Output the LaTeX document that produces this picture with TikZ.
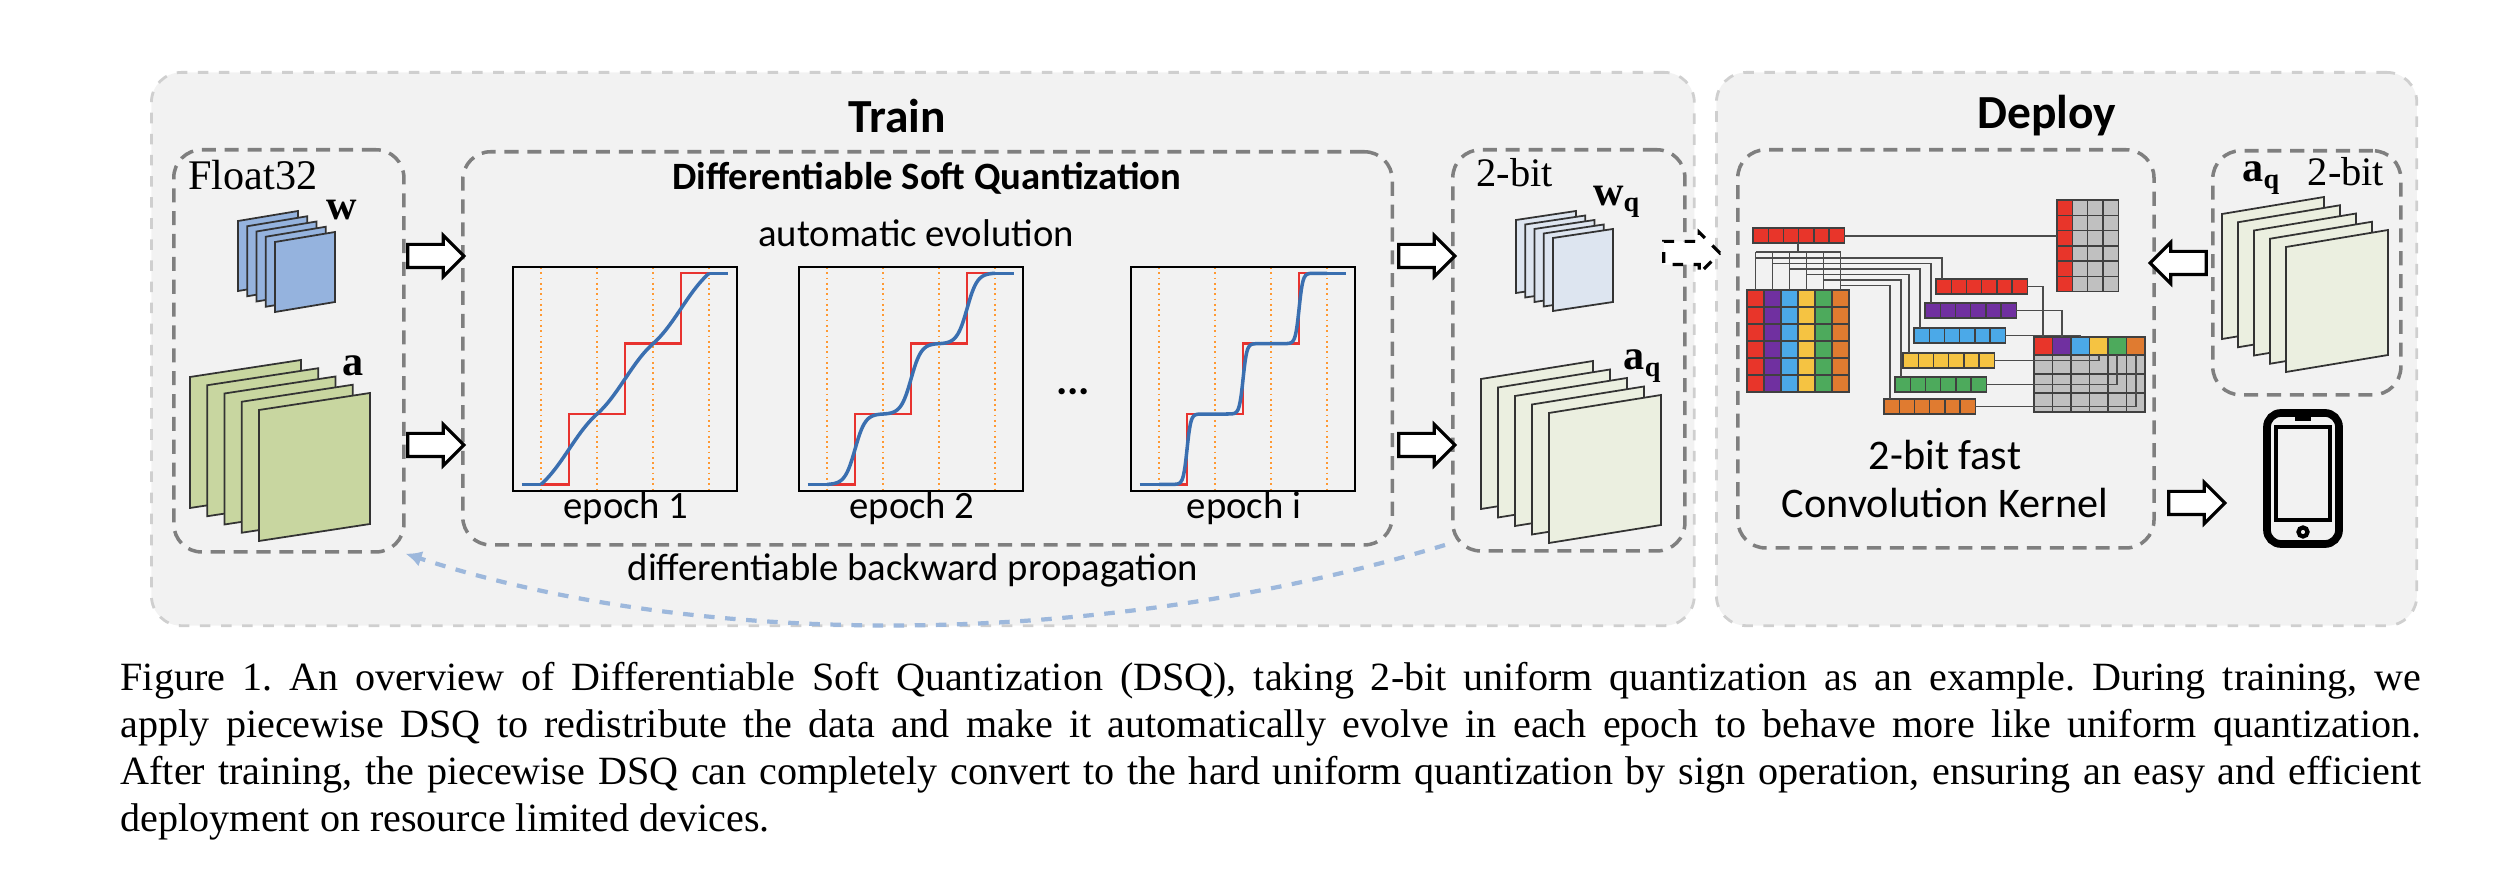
\documentclass[tikz,border=0pt]{standalone}
\usepackage{fontspec}
\setmainfont{Liberation Serif}
\newfontfamily\carlito{Carlito}
\usetikzlibrary{shapes.arrows,calc,arrows.meta}
\definecolor{panel}{HTML}{F2F2F2}
\definecolor{panelline}{HTML}{CFCFCF}
\definecolor{boxline}{HTML}{7F7F7F}
\definecolor{wsheet}{HTML}{95B3DE}
\definecolor{asheet}{HTML}{C8D6A0}
\definecolor{wqsheet}{HTML}{DDE5F0}
\definecolor{aqsheet}{HTML}{EBEFE0}
\definecolor{kred}{HTML}{E8352A}
\definecolor{kpur}{HTML}{7030A0}
\definecolor{kblu}{HTML}{4BA9E8}
\definecolor{kyel}{HTML}{F5C342}
\definecolor{kgrn}{HTML}{4DAA5C}
\definecolor{korg}{HTML}{E07B30}
\definecolor{kgry}{HTML}{C0C0C0}
\definecolor{stepred}{HTML}{E8332F}
\definecolor{softblue}{HTML}{3A6FB0}
\definecolor{back}{HTML}{9DB8DC}

% stack of five sheets: x, y, width, height, slant, dx, dy, colour
\newcommand\sheetstack[8]{%
  \foreach \i in {0,...,4}
    \draw[sheet, fill=#8] (#1+\i*#6, #2+\i*#7) -- ++(#3,-#5) -- ++(0,#4) -- ++(-#3,#5) -- cycle;}

% one epoch plot: x, y, sharpness
\newcommand\epochplot[3]{%
  \begin{scope}[shift={(#1,#2)}, x=2.24cm, y=-2.24cm]
    \foreach \v in {0.125,0.375,0.625,0.875}
      \draw[guide] (\v,0) -- (\v,1);
    \draw[stepred, line width=0.7pt] (0.04,0.97) -- (0.25,0.97) -- (0.25,0.656) -- (0.5,0.656)
      -- (0.5,0.342) -- (0.75,0.342) -- (0.75,0.028) -- (0.96,0.028);
    \draw[softblue, line width=1pt] (0.04,0.97) -- (0.125,0.97);
    \foreach \s in {0,1,2}
      \draw[softblue, line width=1pt, domain=0.125+0.25*\s:0.375+0.25*\s, samples=40, smooth]
        plot (\x, {0.97-0.314*(\s+0.5+0.5*tanh(#3*(\x-0.25-0.25*\s))/tanh(#3*0.125))});
    \draw[softblue, line width=1pt] (0.875,0.028) -- (0.96,0.028);
    \draw[line width=0.6pt] (0,0) rectangle (1,1);
  \end{scope}}

\begin{document}
\frenchspacing
\begin{tikzpicture}[x=0.01cm, y=-0.01cm,
    outer/.style={draw=panelline, fill=panel, dashed, line width=0.8pt, rounded corners=0.3cm,
      anchor=north west, inner sep=0pt},
    inner/.style={draw=boxline, dashed, dash pattern=on 4pt off 2.5pt, line width=1pt,
      rounded corners=0.28cm, anchor=north west, inner sep=0pt},
    sheet/.style={draw=black!80, line width=0.5pt},
    guide/.style={draw=orange!80, densely dotted, line width=0.5pt},
    blk/.style={single arrow, draw, fill=white, line width=0.9pt, inner sep=0.1cm,
      minimum width=0.38cm, single arrow head extend=0.09cm, minimum height=0.56cm},
    cell/.style={draw=black!75, line width=0.4pt},
    wire/.style={draw=black!70, line width=0.5pt},
    title/.style={font=\carlito\bfseries\fontsize{13.5}{14}\selectfont},
    lbl/.style={font=\carlito\fontsize{11}{12}\selectfont}
  ]
  \useasboundingbox (0,0) rectangle (2520,874);

  % panels
  \node[outer, minimum width=15.42cm, minimum height=5.53cm] (train) at (150,71) {};
  \node[outer, minimum width=7.0cm, minimum height=5.53cm] (deploy) at (1715,71) {};
  \node[title] (traint) at (897,116) {Train};
  \node[title] (deployt) at (2047,116) {Deploy};

  % inner boxes
  \node[inner, minimum width=2.30cm, minimum height=4.02cm] (float) at (172,148) {};
  \node[inner, minimum width=9.29cm, minimum height=3.93cm] (dsq) at (461,150) {};
  \node[inner, minimum width=2.32cm, minimum height=4.01cm] (qbit) at (1451,148) {};
  \node[inner, minimum width=4.16cm, minimum height=3.98cm] (kernel) at (1736,148) {};
  \node[inner, minimum width=1.88cm, minimum height=2.44cm] (aqbox) at (2211,149) {};

  % float32 tensors
  \node[anchor=west, font=\fontsize{12}{12}\selectfont] (floatt) at (176,175) {Float32};
  \sheetstack{238}{221}{60}{70}{10}{9.25}{5.25}{wsheet}
  \sheetstack{190}{377}{111}{131}{17}{17.25}{8.25}{asheet}
  \node[font=\bfseries\fontsize{12}{12}\selectfont] (wl) at (342,210) {w};
  \node[font=\bfseries\fontsize{12}{12}\selectfont] (al) at (353,366) {a};

  % soft quantization
  \node[font=\carlito\bfseries\fontsize{11}{12}\selectfont] (dsqt) at (927,178) {Differentiable Soft Quantization};
  \node[lbl] (evo) at (916,233) {automatic evolution};
  \epochplot{513}{267}{6}
  \epochplot{799}{267}{22}
  \epochplot{1131}{267}{60}
  \node[lbl] (ep1) at (626,508) {epoch 1};
  \node[lbl] (ep2) at (912,508) {epoch 2};
  \node[lbl] (epi) at (1244,508) {epoch i};
  \node[font=\carlito\bfseries\fontsize{12}{12}\selectfont] (dots) at (1073,392) {...};

  % 2-bit tensors
  \node[anchor=west, font=\fontsize{11.5}{12}\selectfont] (qbitt) at (1464,173) {2-bit};
  \sheetstack{1516}{220}{60}{73}{9}{9.25}{4.5}{wqsheet}
  \sheetstack{1481}{379}{112}{130}{18}{17}{8.5}{aqsheet}
  \node[font=\bfseries\fontsize{12}{12}\selectfont] (wql) at (1617,202) {w$_{\mathbf{q}}$};
  \node[font=\bfseries\fontsize{12}{12}\selectfont] (aql) at (1643,366) {a$_{\mathbf{q}}$};

  % block arrows
  \node[blk] (f1) at (430,256) {};
  \node[blk] (f2) at (430,445) {};
  \node[blk] (q1) at (1421,256) {};
  \node[blk] (q2) at (1421,445) {};
  \node[blk, dashed] (q3) at (1686,253) {};
  \node[blk, shape border rotate=180] (d1) at (2184,263) {};
  \node[blk] (d2) at (2191,503) {};

  % backward propagation
  \coordinate (bstart) at (1445,545);
  \draw[back, dashed, line width=1.2pt, -{Latex[length=0.16cm,width=0.16cm]}]
    (bstart) .. controls (1100,650) and (700,650) .. (float.south east);
  \node[lbl] (backt) at (913,570) {differentiable backward propagation};

  % deploy inputs
  \node[anchor=west, font=\bfseries\fontsize{12}{12}\selectfont] (aqdl) at (2230,178) {a$_{\mathbf{q}}$};
  \node[font=\fontsize{11.5}{12}\selectfont] (aqdt) at (2346,172) {2-bit};
  \sheetstack{2222}{214}{102}{125}{17}{16}{8.25}{aqsheet}

  % kernel
  \foreach \i in {0,...,5}
    \draw[cell, fill=kred] (1753+\i*15.2,228) rectangle ++(15.2,15);
  \foreach \c [count=\i from 0] in {kred,kpur,kblu,kyel,kgrn,korg}
    \foreach \j in {0,...,5}
      \draw[cell, fill=\c] (1747+\i*17,290+\j*17) rectangle ++(17,17);
  \foreach \i in {0,...,3}
    \foreach \j in {0,...,5}
      \draw[cell, fill=kgry] (2057+\i*15.3,200+\j*15.3) rectangle ++(15.3,15.3);
  \foreach \j in {0,...,5}
    \draw[cell, fill=kred] (2057,200+\j*15.3) rectangle ++(15.3,15.3);
  \foreach \c [count=\i from 0] in {kred,kpur,kblu,kyel,kgrn,korg}{
    \draw[cell, fill=\c] (2034+\i*18.5,337) rectangle ++(18.5,18);
    \foreach \j in {0,1,2}
      \draw[cell, fill=kgry] (2034+\i*18.5,355+\j*19) rectangle ++(18.5,19);}
  \foreach \rx/\ry/\c [count=\k from 0] in {1936/279/kred,1925/303/kpur,1914/328/kblu,
      1903/353/kyel,1895/377/kgrn,1884/399/korg}{
    \foreach \i in {0,...,5}
      \draw[cell, fill=\c] (\rx+\i*15.2,\ry) rectangle ++(15.2,15);
    \draw[wire] (1755.5+\k*17,258+\k*5.5) -| (\rx+6,\ry);}
  \draw[wire] (1844,236) -- (2057,236);
  \draw[wire] (1798,243) -- (1798,252);
  \draw[wire] (1755.5,252) -- (1840.5,252);
  \foreach \i in {0,...,5}
    \draw[wire] (1755.5+\i*17,252) -- (1755.5+\i*17,290);
  \draw[wire] (2027,286.5) -| (2043,337);
  \draw[wire] (2016,310.5) -| (2062,337);
  \draw[wire] (2005,335.5) -| (2080,337);
  \draw[wire] (1994,360.5) -| (2099,355);
  \draw[wire] (1986,384.5) -| (2117,355);
  \draw[wire] (1975,406.5) -| (2136,355);
  \node[lbl, font=\carlito\fontsize{12}{12}\selectfont] (kt1) at (1945,455) {2-bit fast};
  \node[lbl, font=\carlito\fontsize{12}{12}\selectfont] (kt2) at (1945,503) {Convolution Kernel};

  % phone
  \draw[line width=2.2pt, rounded corners=0.14cm] (2267,413) rectangle (2339,544);
  \draw[line width=1.2pt] (2276,427) rectangle (2330,520);
  \draw[line width=1.2pt] (2303,532) circle (0.045cm);
  \draw[line width=1.2pt] (2295,419) -- (2311,419);

  % caption
  \node[anchor=north west, text width=22.99cm, align=justify, inner sep=0pt,
    font=\fontsize{11.4}{13.3}\selectfont] (cap) at (120,662)
    {Figure 1. An overview of Differentiable Soft Quantization (DSQ), taking 2-bit uniform quantization as an example. During training, we\linebreak
    apply piecewise DSQ to redistribute the data and make it automatically evolve in each epoch to behave more like uniform quantization.\linebreak
    After training, the piecewise DSQ can completely convert to the hard uniform quantization by sign operation, ensuring an easy and efficient\linebreak
    deployment on resource limited devices.};
\end{tikzpicture}
\end{document}
